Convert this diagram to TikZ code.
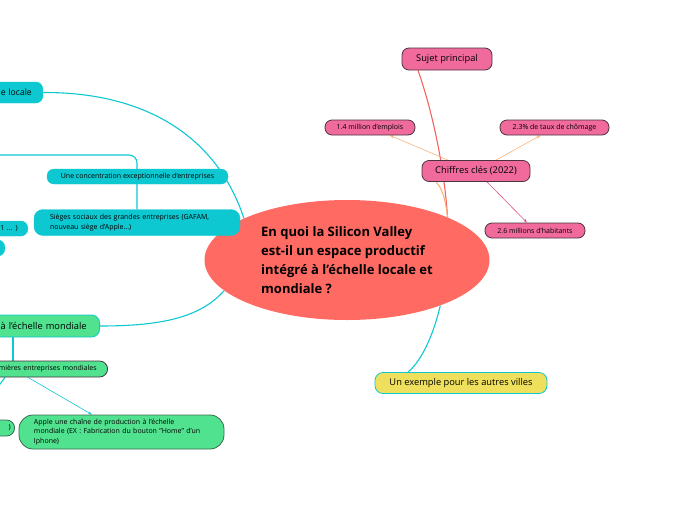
\documentclass[tikz,border=0pt]{standalone}
\usepackage{fontspec}
\setmainfont{Open Sans}
\usetikzlibrary{arrows.meta,shapes.geometric,backgrounds}
\definecolor{salmon}{HTML}{FF6A62}
\definecolor{pinkfill}{HTML}{F06A9C}
\definecolor{pinkline}{HTML}{4A3440}
\definecolor{cyanfill}{HTML}{0DC8D1}
\definecolor{greenfill}{HTML}{50E28E}
\definecolor{greenline}{HTML}{3A6A50}
\definecolor{yellowfill}{HTML}{EEE05C}
\definecolor{orangeline}{HTML}{F9B27C}
\definecolor{redline}{HTML}{F2645C}
\definecolor{pinkarrow}{HTML}{E0508A}
\begin{document}
\begin{tikzpicture}[x=1pt,y=-1pt,
    every node/.style={inner sep=0pt},
    mid/.style={font=\fontsize{9.3}{10}\selectfont},
    small/.style={font=\fontsize{7}{9.7}\selectfont},
    pinkbox/.style={draw=pinkline, fill=pinkfill, line width=0.8pt, rounded corners=7pt},
    cyanbox/.style={draw=cyanfill, fill=cyanfill, rounded corners=7pt},
    greenbox/.style={fill=greenfill, line width=0.8pt, rounded corners=8pt},
    cyanline/.style={draw=cyanfill, line width=1.1pt},
    tip/.style={-{Stealth[length=4pt,width=3pt]}, line width=0.6pt}]
  \useasboundingbox (0,0) rectangle (697,520);
  % central question
  \node[ellipse, fill=salmon, minimum width=285pt, minimum height=120pt, align=left,
    font=\bfseries\fontsize{13}{19.2}\selectfont] (q) at (347,260)
    {En quoi la Silicon Valley\\est-il un espace productif\\int\'egr\'e \`a l'\'echelle locale et\\mondiale ?};
  % pink branch
  \node[pinkbox, mid, minimum width=90pt, minimum height=22pt] (sujet) at (447,59) {Sujet principal};
  \node[pinkbox, mid, minimum width=108pt, minimum height=21pt] (chif) at (476,171) {Chiffres cl\'es (2022)};
  \node[pinkbox, small, minimum width=90pt, minimum height=15pt] (emp) at (370,127.5) {1.4 million d'emplois};
  \node[pinkbox, small, minimum width=109pt, minimum height=15pt] (tau) at (554.5,127.5) {2.3\% de taux de ch\^omage};
  \node[pinkbox, small, minimum width=100pt, minimum height=15pt] (hab) at (535,230.5) {2.6 millions d'habitants};
  % yellow branch
  \node[draw=cyanfill, fill=yellowfill, line width=0.8pt, rounded corners=8pt, mid,
    minimum width=172pt, minimum height=21pt] (yel) at (461,383) {Un exemple pour les autres villes};
  % cyan branch
  \node[cyanbox, font=\fontsize{8.6}{10}\selectfont, anchor=east, minimum height=21pt,
    text width=150pt, align=right, inner xsep=11pt] (loc) at (43,92.5) {e locale};
  \node[cyanbox, small, minimum width=181pt, minimum height=15pt] (conc) at (137.5,176.5)
    {Une concentration exceptionnelle d'entreprises};
  \node[cyanbox, small, minimum height=26pt, text width=174pt, inner xsep=16pt, align=left,
    rounded corners=9pt] (sieg) at (137,222.5)
    {Si\`eges sociaux des grandes entreprises (GAFAM,\\nouveau si\`ege d'Apple...)};
  \node[cyanbox, small, anchor=east, minimum height=15pt, text width=80pt, align=right,
    inner xsep=10pt] (frag) at (28,228.5) {1 ... )};
  \node[cyanbox, small, anchor=east, minimum height=16pt, minimum width=60pt] (frog) at (5,248) {};
  % green branch
  \node[greenbox, draw=cyanfill, mid, anchor=east, minimum height=22pt, text width=150pt,
    align=right, inner xsep=13pt] (mond) at (100,326) {\`a l'\'echelle mondiale};
  \node[greenbox, draw=pinkline, small, anchor=east, minimum height=16pt, text width=150pt,
    align=right, inner xsep=11pt] (prem) at (108,369) {mi\`eres entreprises mondiales};
  \node[greenbox, draw=greenline, small, minimum height=34pt, text width=175pt, inner xsep=15pt,
    align=left, rounded corners=14pt] (apple) at (121.5,432)
    {Apple une cha\^ine de production \`a l'\'echelle\\mondiale (EX : Fabrication du bouton "Home" d'un\\Iphone)};
  \node[greenbox, draw=greenline, small, anchor=east, minimum height=16pt, text width=74pt,
    align=right, inner xsep=4pt] (paren) at (15,428) {)};
  \coordinate (lft) at (-5,155);
  \begin{pgfonlayer}{background}
    \draw[cyanline] (loc.east) .. controls (150,92) and (218,140) .. (q.158);
    \draw[cyanline, rounded corners=8pt] (lft) -- (137,155) -- (sieg.north);
    \draw[cyanline] (q.194) .. controls (200,318) and (160,326) .. (mond.east);
    \draw[cyanline] ([xshift=-87pt]mond.south east) -- ([xshift=-95pt]prem.north east);
    \draw[cyanline] ([xshift=-103pt]prem.south east) -- (paren.north);
    \draw[cyanfill, tip] ([xshift=-80pt]prem.south east) -- ([xshift=-29.5pt]apple.north);
    \draw[cyanline] (q.-26) .. controls (432,340) and (420,362) .. ([xshift=-53pt]yel.north);
    \draw[redline, line width=1.1pt] ([xshift=-29pt]sujet.south) .. controls (432,110) and (444,165) .. (q.23);
    \draw[orangeline, line width=1.1pt] ([xshift=-40pt]chif.south) .. controls (444,190) and (446,205) .. (q.23);
    \draw[orangeline, tip] ([xshift=-28pt]chif.north) -- ([xshift=20pt]emp.south);
    \draw[orangeline, tip] ([xshift=20pt]chif.north) -- ([xshift=-14pt]tau.south);
    \draw[pinkarrow, tip] ([xshift=11pt]chif.south) -- ([xshift=-8pt]hab.north);
  \end{pgfonlayer}
\end{tikzpicture}
\end{document}
